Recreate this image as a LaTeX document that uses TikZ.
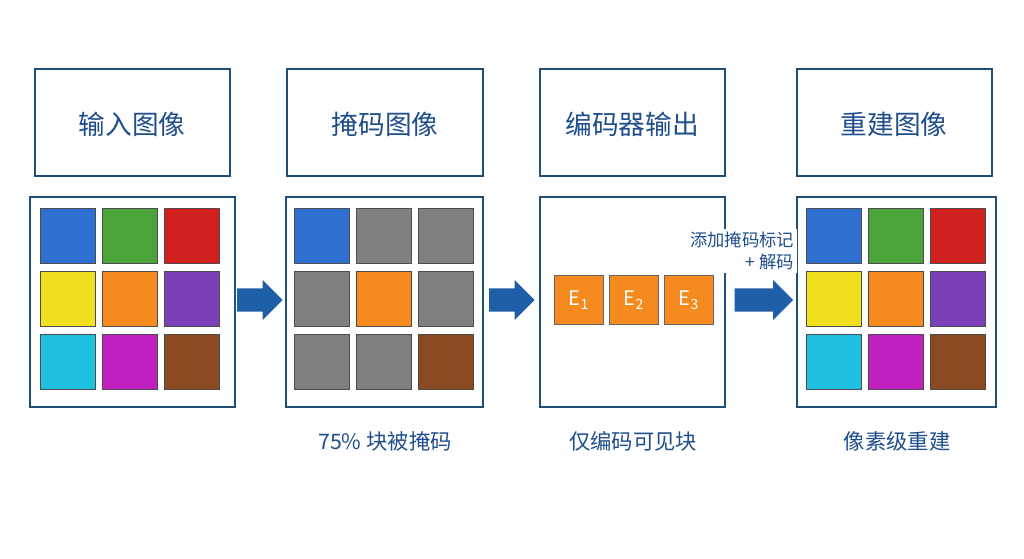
\documentclass[tikz,border=0pt]{standalone}
\usepackage{fontspec}
\setmainfont{Noto Sans CJK SC}
\usetikzlibrary{shapes.arrows}
\definecolor{frame}{HTML}{1F4E79}
\definecolor{txt}{HTML}{1F4E8C}
\definecolor{arr}{HTML}{1F5FA8}
\definecolor{cB}{HTML}{2E6FD0}\definecolor{cG}{HTML}{4CA33A}\definecolor{cR}{HTML}{D02020}
\definecolor{cY}{HTML}{F0E020}\definecolor{cO}{HTML}{F58A1E}\definecolor{cP}{HTML}{7B3FB8}
\definecolor{cC}{HTML}{20C0E0}\definecolor{cM}{HTML}{C020C0}\definecolor{cN}{HTML}{8B4A22}
\definecolor{cX}{HTML}{808080}
\tikzset{
 box/.style={draw=frame,line width=2pt,fill=white},
 title/.style={text=txt,font=\fontsize{20}{22}\selectfont},
 captext/.style={text=txt,font=\fontsize{16}{18}\selectfont},
 cell/.style={draw=black!70,line width=0.6pt,minimum size=41pt,inner sep=0pt},
 ebox/.style={draw=black!60,fill=cO,text=white,minimum width=37pt,minimum height=37pt,inner sep=0pt,font=\fontsize{15}{17}\selectfont},
 barrow/.style={single arrow,fill=arr,draw=none,minimum height=34pt,minimum width=30pt,single arrow head extend=3pt,inner sep=4pt,shape border rotate=0}
}
\begin{document}
\begin{tikzpicture}[x=0.75pt,y=-0.75pt]
\useasboundingbox (0,0) rectangle (1024,559);
% title boxes
\draw[box] (35,69) rectangle (230,176); \node[title] (t1) at (132,124) {输入图像};
\draw[box] (287,69) rectangle (483,176); \node[title] (t2) at (385,124) {掩码图像};
\draw[box] (540,69) rectangle (725,176); \node[title] (t3) at (632,124) {编码器输出};
\draw[box] (797,69) rectangle (992,176); \node[title] (t4) at (894,124) {重建图像};
% image boxes
\draw[box] (30,197) rectangle (235,407);
\draw[box] (286,197) rectangle (483,407);
\draw[box] (540,197) rectangle (725,407);
\draw[box] (797,197) rectangle (996,407);
% grids
\foreach \ox/\cols in {68/{cB,cG,cR,cY,cO,cP,cC,cM,cN},322/{cB,cX,cX,cX,cO,cX,cX,cX,cN},834/{cB,cG,cR,cY,cO,cP,cC,cM,cN}}{
  \foreach \c [count=\i from 0] in \cols {
    \pgfmathtruncatemacro{\cc}{mod(\i,3)}\pgfmathtruncatemacro{\rr}{int(\i/3)}
    \node[cell,fill=\c] at (\ox+\cc*62,236+\rr*63) {};
  }
}
% encoder outputs
\node[ebox] (e1) at (579,300) {E\textsubscript{1}};
\node[ebox] (e2) at (634,300) {E\textsubscript{2}};
\node[ebox] (e3) at (689,300) {E\textsubscript{3}};
% arrows
\node[barrow] (a1) at (254,300) {};
\node[barrow] (a2) at (506,300) {};
\node[barrow,minimum height=44pt] (a3) at (758,300) {};
\node[fill=white,text=txt,align=right,inner sep=2pt,anchor=east,font=\fontsize{13}{17}\selectfont] (lab) at (797,251) {添加掩码标记\\+ 解码};
% captions
\node[captext] (c2) at (385,441) {75\% 块被掩码};
\node[captext] (c3) at (633,441) {仅编码可见块};
\node[captext] (c4) at (897,441) {像素级重建};
\end{tikzpicture}
\end{document}
